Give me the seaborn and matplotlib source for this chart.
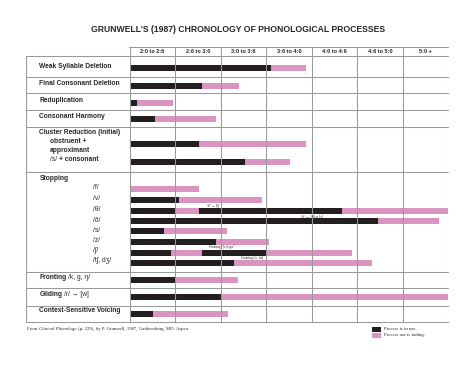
import matplotlib
matplotlib.use("Agg")
import matplotlib.pyplot as plt
import seaborn as sns

# age columns (months of age); every row starts at 2;0 = 24 months
age_bins = ["2:0 to 2:6", "2:6 to 3:0", "3:0 to 3:6", "3:6 to 4:0",
            "4:0 to 4:6", "4:6 to 5:0", "5:0 +"]
bin_edges = [24, 30, 36, 42, 48, 54, 60, 66]

# one entry per bar: ends of consecutive segments, alternating state
bar_names = ["Weak Syllable Deletion", "Final Consonant Deletion", "Reduplication",
             "Consonant Harmony", "obstruent + approximant", "/s/ + consonant",
             "/f/", "/v/", "/θ/", "/ð/", "/s/", "/z/", "/ʃ/", "/tʃ, dʒ/",
             "Fronting", "Gliding", "Context-Sensitive Voicing"]
segment_ends = [
    [42.6, 47.2],
    [33.6, 38.4],
    [25.0, 29.7],
    [27.4, 35.4],
    [33.2, 47.3],
    [39.2, 45.2],
    [33.1],
    [30.5, 41.4],
    [30.1, 33.1, 52.0, 66.0],
    [56.8, 64.8],
    [28.5, 36.8],
    [35.4, 42.4],
    [29.5, 33.5, 42.1, 53.3],
    [37.8, 56.0],
    [30.1, 38.3],
    [36.0, 66.0],
    [27.1, 37.0],
]
first_state = ["use"] * 6 + ["fading"] + ["use"] * 10

annotations = ["/θ/ → [f]", "/ð/ →  [d] or [v]", 'Fronting "[s] type"', "Fronting [ts, dz]"]
annotation_age = [35.0, 48.0, 36.1, 40.1]

legend_labels = ["Process is in use.", "Process use is fading."]

# layout (pixel rows)
bar_y = [68.3, 85.7, 102.7, 119, 143.7, 162, 189, 199.7, 210.7, 221, 231.3,
         241.7, 252.7, 263, 280.3, 297, 314]
annotation_y = [205.6, 216.0, 246.8, 257.8]
row_lines = [56, 76.7, 93.3, 110, 126.7, 171.7, 272.3, 288.3, 305.7, 322.3]
left_px, grid_left, grid_right = 26, 129.5, 448.3
head_top, table_bottom = 46.7, 322.3

COLORS = {"use": "#231f20", "fading": "#d994c2"}
GRID = "#999999"
SANS = ["Liberation Sans", "DejaVu Sans"]
SERIF = ["Liberation Serif", "DejaVu Serif"]

sns.set_theme(style="white")
plt.rcParams["font.family"] = SANS

W, H = 474, 366
fig = plt.figure(figsize=(W / 100, H / 100), dpi=100)
frame = fig.add_axes([0, 0, 1, 1])
frame.set_xlim(0, W)
frame.set_ylim(H, 0)
frame.axis("off")

bars = fig.add_axes([grid_left / W, 0, (grid_right - grid_left) / W, 1])
bars.set_xlim(bin_edges[0], bin_edges[-1])
bars.set_ylim(H, 0)
bars.axis("off")
bars.patch.set_alpha(0)

# table frame
lw = 0.75
for y in row_lines:
    frame.plot([left_px, grid_right], [y, y], color=GRID, lw=lw)
frame.plot([grid_left, grid_right], [head_top, head_top], color=GRID, lw=lw)
frame.plot([left_px, left_px], [row_lines[0], table_bottom], color=GRID, lw=lw)
bars.vlines(bin_edges, head_top, table_bottom, color=GRID, lw=lw)

for i, lab in enumerate(age_bins):
    bars.text((bin_edges[i] + bin_edges[i + 1]) / 2, 51.5, lab, ha="center", va="center",
              fontsize=4.0, fontweight="bold")

# bars
for y, ends, state in zip(bar_y, segment_ends, first_state):
    start = bin_edges[0]
    for end in ends:
        bars.barh(y, end - start, left=start, height=6.0, color=COLORS[state], lw=0)
        state = "fading" if state == "use" else "use"
        start = end

for txt, age, y in zip(annotations, annotation_age, annotation_y):
    bars.text(age, y, txt, ha="center", va="center", fontsize=2.4, family=SERIF)

# row labels with mixed weight
renderer = fig.canvas.get_renderer()


def rich_label(x, y, parts, size=4.8):
    for text, weight in parts:
        t = frame.text(x, y, text, fontsize=size, fontweight=weight, ha="left", va="center")
        x += t.get_window_extent(renderer=renderer).width + 1.8


labels = [
    (39.3, 66, [("Weak Syllable Deletion", "bold")]),
    (39.3, 83.3, [("Final Consonant Deletion", "bold")]),
    (39.3, 100, [("Reduplication", "bold")]),
    (39.3, 116.7, [("Consonant Harmony", "bold")]),
    (39.3, 132.7, [("Cluster Reduction (Initial)", "bold")]),
    (50, 141.2, [("obstruent +", "bold")]),
    (50, 150.2, [("approximant", "bold")]),
    (50, 159.8, [("/s/", "normal"), ("+ consonant", "bold")]),
    (39.3, 178.3, [("Stopping", "bold")]),
    (93, 187.4, [("/f/", "normal")]),
    (93, 198.6, [("/v/", "normal")]),
    (93, 209.4, [("/θ/", "normal")]),
    (93, 220, [("/ð/", "normal")]),
    (93, 230.2, [("/s/", "normal")]),
    (93, 240.2, [("/z/", "normal")]),
    (93, 250.6, [("/ʃ/", "normal")]),
    (93, 260.8, [("/tʃ, dʒ/", "normal")]),
    (39.3, 277.7, [("Fronting", "bold"), ("/k, g, ŋ/", "normal")]),
    (39.3, 294.4, [("Gliding", "bold"), ("/r/ → [w]", "normal")]),
    (39.3, 311, [("Context-Sensitive Voicing", "bold")]),
]
for x, y, parts in labels:
    rich_label(x, y, parts)

frame.text(W / 2 + 1, 30, "GRUNWELL'S (1987) CHRONOLOGY OF PHONOLOGICAL PROCESSES",
           ha="center", va="center", fontsize=6.2, fontweight="bold")

# source line
x0 = 26.7
for text, style in [("From ", "normal"), ("Clinical Phonology", "italic"),
                    (" (p. 229), by P. Grunwell, 1987, Gaithersburg, MD: Aspen.", "normal")]:
    t = frame.text(x0, 329.3, text, fontsize=3.4, family=SERIF, style=style,
                   ha="left", va="center")
    x0 += t.get_window_extent(renderer=renderer).width + (0.9 if text == "From " or style == "italic" else 0)

# legend
for lab, state, y in zip(legend_labels, ["use", "fading"], [329.3, 335.3]):
    frame.add_patch(plt.Rectangle((371.7, y - 2.2), 9.3, 4.4, color=COLORS[state], lw=0))
    frame.text(384, y, lab, fontsize=3.4, family=SERIF, ha="left", va="center")

fig.savefig("out.png", dpi=100)
